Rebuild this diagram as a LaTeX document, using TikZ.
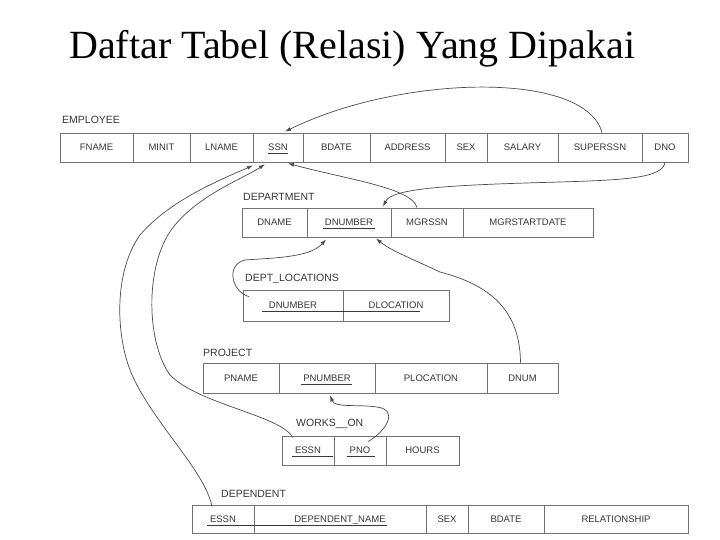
\documentclass[tikz,border=0pt]{standalone}
\usepackage{fontspec}
\setmainfont{Liberation Serif}
\newfontfamily\tabsans{Liberation Sans}
\usetikzlibrary{arrows.meta,calc}
\definecolor{bordergray}{RGB}{115,115,115}
\definecolor{txtgray}{RGB}{55,55,55}
\definecolor{arrgray}{RGB}{75,75,75}
\begin{document}
\begin{tikzpicture}[x=1pt,y=-1pt,
  cell/.style={draw=bordergray, line width=0.8pt, inner sep=0pt, text=txtgray,
    text height=6.8pt, text depth=0pt,
    font=\tabsans\fontsize{9.5}{10}\selectfont},
  tlabel/.style={anchor=west, inner sep=0pt, text=txtgray,
    font=\tabsans\fontsize{10.5}{12}\selectfont},
  keyline/.style={draw=txtgray, line width=0.7pt},
  fk/.style={draw=arrgray, line width=0.7pt, -{Latex[length=6pt,width=4pt]}}]
\useasboundingbox (0,0) rectangle (720,540);
\fill[white] (0,0) rectangle (720,540);

% title
\node[anchor=base west, inner sep=0pt, font=\fontsize{40}{44}\selectfont] (title) at (69,59) {Daftar Tabel (Relasi) Yang Dipakai};

% EMPLOYEE
\node[tlabel] (lemp) at (62,120) {EMPLOYEE};
\begin{scope}[every node/.style={cell, minimum height=29pt}]
\node[minimum width=73pt] (e1) at (96.5,147.5) {FNAME};
\node[minimum width=57pt] (e2) at (161.5,147.5) {MINIT};
\node[minimum width=63pt] (e3) at (221.5,147.5) {LNAME};
\node[minimum width=50pt] (e4) at (278,147.5) {SSN};
\node[minimum width=67pt] (e5) at (336.5,147.5) {BDATE};
\node[minimum width=75pt] (e6) at (407.5,147.5) {ADDRESS};
\node[minimum width=42pt] (e7) at (466,147.5) {SEX};
\node[minimum width=71pt] (e8) at (522.5,147.5) {SALARY};
\node[minimum width=84pt] (e9) at (600,147.5) {SUPERSSN};
\node[minimum width=46pt] (e10) at (665,147.5) {DNO};
\end{scope}
\draw[keyline] ($(e4.center)+(-10,6)$) -- ($(e4.center)+(10,6)$);

% DEPARTMENT
\node[tlabel] (ldep) at (243,197) {DEPARTMENT};
\begin{scope}[every node/.style={cell, minimum height=29pt}]
\node[minimum width=65pt] (d1) at (274.5,222.5) {DNAME};
\node[minimum width=84pt] (d2) at (349,222.5) {DNUMBER};
\node[minimum width=72pt] (d3) at (427,222.5) {MGRSSN};
\node[minimum width=130pt] (d4) at (528,222.5) {MGRSTARTDATE};
\end{scope}
\draw[keyline, line width=1.1pt] ($(d2.center)+(-26,6)$) -- ($(d2.center)+(26,6)$);

% DEPT_LOCATIONS
\node[tlabel] (lloc) at (245,279) {DEPT\_LOCATIONS};
\begin{scope}[every node/.style={cell, minimum height=31pt}]
\node[minimum width=100pt] (l1) at (293,305.5) {DNUMBER};
\node[minimum width=106pt] (l2) at (396,305.5) {DLOCATION};
\end{scope}
\draw[keyline] ($(l1.center)+(-31,6)$) -- ($(l2.center)+(24,6)$);

% PROJECT
\node[tlabel] (lproj) at (203,353) {PROJECT};
\begin{scope}[every node/.style={cell, minimum height=30pt}]
\node[minimum width=76pt] (p1) at (241,378) {PNAME};
\node[minimum width=96pt] (p2) at (327,378) {PNUMBER};
\node[minimum width=112pt] (p3) at (431,378) {PLOCATION};
\node[minimum width=71pt] (p4) at (522.5,378) {DNUM};
\end{scope}
\draw[keyline] ($(p2.center)+(-26,6)$) -- ($(p2.center)+(25,6)$);

% WORKS_ON
\node[tlabel] (lworks) at (296,424) {WORKS\_\_ON};
\begin{scope}[every node/.style={cell, minimum height=29pt}]
\node[minimum width=52pt] (w1) at (308,450.5) {ESSN};
\node[minimum width=52pt] (w2) at (360,450.5) {PNO};
\node[minimum width=73pt] (w3) at (422.5,450.5) {HOURS};
\end{scope}
\draw[keyline] ($(w1.center)+(-16,6)$) -- ($(w1.center)+(25,6)$);
\draw[keyline] ($(w2.center)+(-13,6)$) -- ($(w2.center)+(15,6)$);

% DEPENDENT
\node[tlabel] (ldpn) at (221,494) {DEPENDENT};
\begin{scope}[every node/.style={cell, minimum height=28pt}]
\node[minimum width=62pt] (dp1) at (223,519) {ESSN};
\node[minimum width=172pt] (dp2) at (340,519) {DEPENDENT\_NAME};
\node[minimum width=42pt] (dp3) at (447,519) {SEX};
\node[minimum width=76pt] (dp4) at (506,519) {BDATE};
\node[minimum width=144pt] (dp5) at (616,519) {RELATIONSHIP};
\end{scope}
\draw[keyline] ($(dp1.center)+(-16,6.5)$) -- ($(dp2.center)+(47,6.5)$);

% connectors
% SUPERSSN -> SSN
\draw[fk] ([xshift=2pt]e9.north) .. controls (585,70) and (400,75) .. ([xshift=7pt,yshift=1pt]e4.north);
% DNO -> DNUMBER
\draw[fk] (e10.south) .. controls (663,178) and (625,180) .. (560,182)
  .. controls (450,185) and (392,188) .. ([xshift=34pt,yshift=1pt]d2.north);
% MGRSSN -> SSN
\draw[fk] ([xshift=-10pt]d3.north) .. controls (412,188) and (350,180) .. ([xshift=10pt,yshift=-1pt]e4.south);
% WORKS_ON.ESSN -> SSN
\draw[fk] ([xshift=-15pt,yshift=-2pt]w1.north) .. controls (280,415) and (200,405) .. (170,375)
  .. controls (145,340) and (145,260) .. (175,225)
  .. controls (200,195) and (240,180) .. ([xshift=-13pt,yshift=-2pt]e4.south);
% DEPENDENT.ESSN -> SSN
\draw[fk] ([xshift=-11pt,yshift=-2pt]dp1.north) .. controls (205,470) and (150,420) .. (130,370)
  .. controls (115,330) and (115,270) .. (140,235)
  .. controls (170,200) and (220,180) .. ([xshift=-25pt,yshift=-3pt]e4.south);
% DEPT_LOCATIONS.DNUMBER -> DEPARTMENT.DNUMBER
\draw[fk] ([xshift=-44pt,yshift=-7pt]l1.north) .. controls (232,292) and (225,265) .. (245,260)
  .. controls (270,258) and (310,258) .. ([xshift=-23pt,yshift=-2pt]d2.south);
% PROJECT.DNUM -> DEPARTMENT.DNUMBER
\draw[fk] ([xshift=-2pt]p4.north) .. controls (520,310) and (490,285) .. (440,272)
  .. controls (410,258) and (390,250) .. ([xshift=27pt,yshift=-1pt]d2.south);
% WORKS_ON.PNO -> PROJECT.PNUMBER
\draw[fk] ([xshift=8pt,yshift=-6pt]w2.north) .. controls (385,432) and (400,410) .. (377,407)
  .. controls (355,404) and (335,408) .. ([xshift=3pt,yshift=-2pt]p2.south);
\end{tikzpicture}
\end{document}
